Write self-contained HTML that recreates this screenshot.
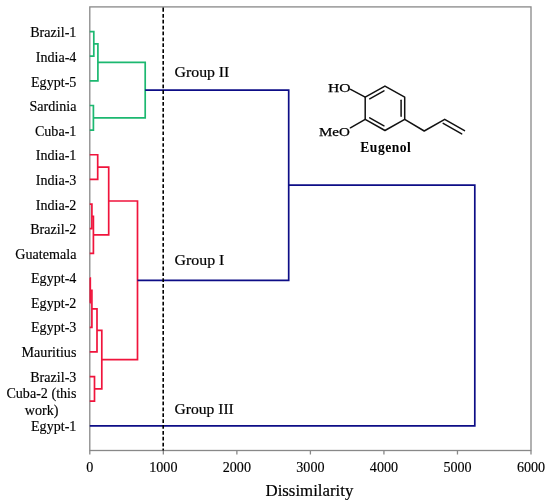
<!DOCTYPE html>
<html lang="en"><head><meta charset="utf-8"><title>Dendrogram</title>
<style>
html,body{margin:0;padding:0;background:#fff}
svg{display:block}
text{font-family:"Liberation Serif","DejaVu Serif",serif;fill:#000;stroke:#000;stroke-width:0.2px}
.t{font-size:14.1px;stroke-width:0.15px}
.g{font-size:14.5px}
.d{font-size:16px}
.b{font-size:13.6px;font-weight:bold;stroke-width:0}
.m{font-size:13.4px;stroke-width:0.25px}
</style></head><body>
<svg width="550" height="501" viewBox="0 0 550 501">
<rect width="550" height="501" fill="#fff"/>
<rect x="89.8" y="6.9" width="441.2" height="443.6" fill="none" stroke="#888" stroke-width="1.3"/>
<line x1="89.80" y1="450.5" x2="89.80" y2="454.5" stroke="#888" stroke-width="1.3"/>
<line x1="163.33" y1="450.5" x2="163.33" y2="454.5" stroke="#888" stroke-width="1.3"/>
<line x1="236.87" y1="450.5" x2="236.87" y2="454.5" stroke="#888" stroke-width="1.3"/>
<line x1="310.40" y1="450.5" x2="310.40" y2="454.5" stroke="#888" stroke-width="1.3"/>
<line x1="383.93" y1="450.5" x2="383.93" y2="454.5" stroke="#888" stroke-width="1.3"/>
<line x1="457.47" y1="450.5" x2="457.47" y2="454.5" stroke="#888" stroke-width="1.3"/>
<line x1="531.00" y1="450.5" x2="531.00" y2="454.5" stroke="#888" stroke-width="1.3"/>
<path d="M89.80,31.54H93.80V56.19H89.80" fill="none" stroke="#1cb870" stroke-width="1.7" stroke-linejoin="miter"/>
<path d="M93.80,43.87H97.90V80.83H89.80" fill="none" stroke="#1cb870" stroke-width="1.7" stroke-linejoin="miter"/>
<path d="M89.80,105.48H93.40V130.12H89.80" fill="none" stroke="#1cb870" stroke-width="1.7" stroke-linejoin="miter"/>
<path d="M97.90,62.35H145.20V117.80H93.40" fill="none" stroke="#1cb870" stroke-width="1.7" stroke-linejoin="miter"/>
<path d="M89.80,154.77H97.70V179.41H89.80" fill="none" stroke="#f0143c" stroke-width="1.7" stroke-linejoin="miter"/>
<path d="M89.80,204.06H91.90V228.70H89.80" fill="none" stroke="#f0143c" stroke-width="1.7" stroke-linejoin="miter"/>
<path d="M91.90,216.38H93.40V253.34H89.80" fill="none" stroke="#f0143c" stroke-width="1.7" stroke-linejoin="miter"/>
<path d="M97.70,167.09H108.70V234.86H93.40" fill="none" stroke="#f0143c" stroke-width="1.7" stroke-linejoin="miter"/>
<path d="M89.80,277.99H90.30V302.63H89.80" fill="none" stroke="#f0143c" stroke-width="1.7" stroke-linejoin="miter"/>
<path d="M90.30,290.31H91.90V327.28H89.80" fill="none" stroke="#f0143c" stroke-width="1.7" stroke-linejoin="miter"/>
<path d="M91.90,308.79H97.00V351.92H89.80" fill="none" stroke="#f0143c" stroke-width="1.7" stroke-linejoin="miter"/>
<path d="M89.80,376.57H94.50V401.21H89.80" fill="none" stroke="#f0143c" stroke-width="1.7" stroke-linejoin="miter"/>
<path d="M97.00,330.36H101.80V388.89H94.50" fill="none" stroke="#f0143c" stroke-width="1.7" stroke-linejoin="miter"/>
<path d="M108.70,200.98H137.50V359.62H101.80" fill="none" stroke="#f0143c" stroke-width="1.7" stroke-linejoin="miter"/>
<path d="M145.20,90.08H288.70V280.30H137.50" fill="none" stroke="#0d0d86" stroke-width="1.7" stroke-linejoin="miter"/>
<path d="M288.70,185.19H474.80V425.86H89.80" fill="none" stroke="#0d0d86" stroke-width="1.7" stroke-linejoin="miter"/>
<path d="M163.2,7.5V8.2M163.2,8.09V450.5" stroke="#000" stroke-width="1.6" stroke-dasharray="3.7 2.173" fill="none"/>
<text x="89.80" y="472.4" text-anchor="middle" class="t">0</text>
<text x="163.33" y="472.4" text-anchor="middle" class="t">1000</text>
<text x="236.87" y="472.4" text-anchor="middle" class="t">2000</text>
<text x="310.40" y="472.4" text-anchor="middle" class="t">3000</text>
<text x="383.93" y="472.4" text-anchor="middle" class="t">4000</text>
<text x="457.47" y="472.4" text-anchor="middle" class="t">5000</text>
<text x="531.00" y="472.4" text-anchor="middle" class="t">6000</text>
<text x="76.4" y="37.37" text-anchor="end" class="t">Brazil-1</text>
<text x="76.4" y="61.96" text-anchor="end" class="t">India-4</text>
<text x="76.4" y="86.55" text-anchor="end" class="t">Egypt-5</text>
<text x="76.4" y="111.14" text-anchor="end" class="t">Sardinia</text>
<text x="76.4" y="135.73" text-anchor="end" class="t">Cuba-1</text>
<text x="76.4" y="160.32" text-anchor="end" class="t">India-1</text>
<text x="76.4" y="184.91" text-anchor="end" class="t">India-3</text>
<text x="76.4" y="209.50" text-anchor="end" class="t">India-2</text>
<text x="76.4" y="234.09" text-anchor="end" class="t">Brazil-2</text>
<text x="76.4" y="258.68" text-anchor="end" class="t">Guatemala</text>
<text x="76.4" y="283.27" text-anchor="end" class="t">Egypt-4</text>
<text x="76.4" y="307.86" text-anchor="end" class="t">Egypt-2</text>
<text x="76.4" y="332.45" text-anchor="end" class="t">Egypt-3</text>
<text x="76.4" y="357.04" text-anchor="end" class="t">Mauritius</text>
<text x="76.4" y="381.63" text-anchor="end" class="t">Brazil-3</text>
<text x="76.5" y="398.2" text-anchor="end" class="t">Cuba-2 (this</text>
<text x="58.4" y="414.9" text-anchor="end" class="t">work)</text>
<text x="76.4" y="430.81" text-anchor="end" class="t">Egypt-1</text>
<text x="174.6" y="76.8" class="g" textLength="54.8" lengthAdjust="spacingAndGlyphs">Group II</text>
<text x="174.6" y="265.3" class="g" textLength="49.7" lengthAdjust="spacingAndGlyphs">Group I</text>
<text x="174.6" y="413.6" class="g" textLength="59.2" lengthAdjust="spacingAndGlyphs">Group III</text>
<text x="265.5" y="495.8" class="d" textLength="87.8" lengthAdjust="spacingAndGlyphs">Dissimilarity</text>
<g fill="none" stroke="#111" stroke-width="1.5" stroke-linejoin="round" stroke-linecap="round">
<path d="M365.20,97.20L384.95,86.10L404.70,97.20L404.70,119.40L384.95,130.50L365.20,119.40Z"/>
<line x1="369.73" y1="98.78" x2="383.95" y2="90.79"/>
<line x1="401.10" y1="100.31" x2="401.10" y2="116.29"/>
<line x1="383.95" y1="125.81" x2="369.73" y2="117.82"/>
<line x1="365.20" y1="97.20" x2="350.6" y2="89.3"/>
<line x1="365.20" y1="119.40" x2="350.4" y2="127.8"/>
<path d="M404.70,119.40L424.20,131.00L444.70,119.30L464.50,130.60"/>
<line x1="443.2" y1="123.4" x2="461.7" y2="133.9"/>
</g>
<text x="328.0" y="91.9" class="m" textLength="22.6" lengthAdjust="spacingAndGlyphs">HO</text>
<text x="319.0" y="135.9" class="m" textLength="30.9" lengthAdjust="spacingAndGlyphs">MeO</text>
<text x="360.3" y="151.9" class="b" textLength="50.6" lengthAdjust="spacing">Eugenol</text>
</svg>
</body></html>
